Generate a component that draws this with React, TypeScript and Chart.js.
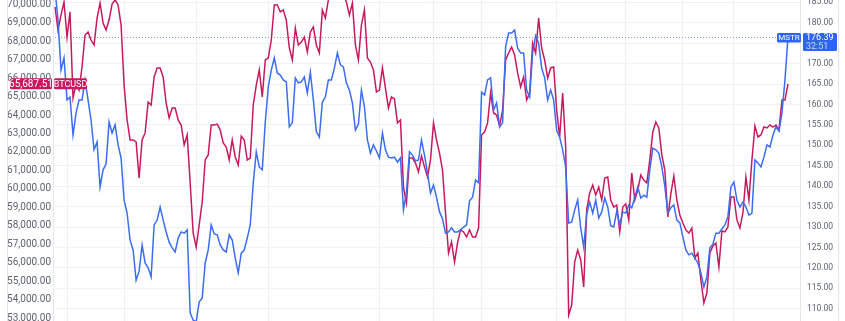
import React, { useEffect, useRef } from 'react';
import { Chart, registerables } from 'chart.js';

Chart.register(...registerables);

// BTCUSD close values (left scale)
const btcValues: number[] = [
  69850, 68600, 69410, 70120, 68220, 69580, 64920, 65680, 65350, 66600,
  68330, 68490, 68060, 67790, 69250, 70060, 68980, 68600, 69140, 70010,
  70230, 69960, 68870, 65620, 63730, 62650, 62650, 62540, 60590, 62650,
  63030, 64700, 64540, 66060, 66550, 66550, 66060, 64650, 63840, 64380,
  64380, 63730, 63460, 62380, 62920, 60320, 57610, 56850, 58050, 59290,
  61570, 61840, 63460, 63460, 63510, 63190, 62490, 62270, 61570, 62650,
  61730, 61290, 62860, 62650, 61570, 61670, 64540, 65620, 66440, 64980,
  66980, 67090, 68060, 69960, 69960, 69580, 69690, 69140, 67630, 66980,
  68710, 67790, 67950, 68220, 67410, 68490, 68770, 67790, 67360, 69690,
  69250, 70230, 70770, 71040, 71040, 70770, 70500, 70120, 69410, 70060,
  67790, 66980, 68870, 69690, 67090, 66870, 66440, 65250, 65350, 66550,
  65460, 64380, 64980, 64870, 63570, 63730, 60100, 59240, 61670, 61670,
  61400, 60920, 61780, 61190, 60640, 61570, 63570, 62650, 61940, 61020,
  58700, 56530, 57130, 56040, 57070, 57780, 57670, 57400, 57780, 57400,
  57400, 57880, 62920, 63080, 63570, 65190, 64110, 64000, 63410, 64270,
  66980, 67360, 67680, 67250, 66280, 65520, 66060, 64810, 65190, 67900,
  67360, 69250, 67630, 66980, 66000, 66550, 66600, 64270, 62810, 65190,
  62270, 53170, 53710, 56040, 56690, 56150, 54690, 58860, 59780, 60210,
  59670, 60100, 59400, 60590, 60640, 59400, 59020, 59130, 57670, 59020,
  59180, 58320, 60860, 59400, 59940, 60750, 60480, 60320, 61570, 63080,
  63620, 63300, 61840, 61020, 58480, 59720, 60700, 59400, 58590, 58150,
  57780, 57610, 57880, 56260, 56530, 55070, 53820, 54360, 56530, 56910,
  57070, 55770, 57720, 57670, 57940, 59560, 59560, 58320, 57880, 58700,
  60640, 59400, 61570, 63410, 62810, 62920, 63350, 63300, 63460, 63350,
  63460, 63190, 64810, 64810, 65687.51,
];

// MSTR close values (right scale)
const mstrValues: number[] = [
  188.0, 180.7, 168.4, 171.4, 161.1, 161.8, 152.5, 157.9, 161.1, 161.1,
  166.0, 161.1, 156.2, 148.9, 150.8, 139.8, 144.0, 145.4, 155.7, 153.0,
  155.0, 150.1, 146.9, 136.6, 133.4, 126.8, 124.4, 117.0, 119.2, 125.6,
  121.2, 120.0, 117.8, 130.5, 131.7, 134.9, 131.7, 128.8, 126.3, 124.9,
  123.9, 127.3, 128.8, 128.5, 129.3, 109.0, 107.2, 106.8, 111.7, 112.6,
  121.2, 124.4, 130.5, 128.3, 128.1, 125.6, 124.4, 123.9, 128.1, 126.8,
  122.4, 118.8, 123.6, 124.4, 127.3, 130.5, 140.8, 148.4, 144.7, 144.0,
  155.7, 164.3, 168.4, 171.4, 167.7, 167.2, 166.0, 165.5, 154.5, 155.5,
  166.5, 165.3, 165.5, 166.7, 162.8, 167.9, 161.1, 153.3, 152.0, 160.6,
  161.8, 166.0, 166.0, 168.9, 172.6, 169.7, 169.2, 165.3, 163.5, 160.4,
  153.7, 155.2, 163.5, 159.4, 151.3, 148.1, 150.1, 148.6, 146.9, 153.0,
  148.9, 147.1, 146.9, 147.1, 145.9, 146.9, 134.2, 138.6, 148.4, 147.6,
  146.2, 146.4, 151.3, 147.6, 143.2, 138.3, 140.3, 137.3, 133.7, 132.0,
  128.5, 128.8, 129.8, 128.8, 128.8, 129.3, 130.0, 130.5, 136.4, 137.3,
  141.5, 140.8, 163.0, 162.3, 166.0, 166.5, 158.6, 160.4, 154.5, 155.5,
  174.1, 177.5, 177.5, 178.2, 173.8, 172.6, 172.6, 163.5, 161.8, 172.6,
  176.8, 175.0, 168.9, 166.5, 161.1, 163.5, 161.1, 153.7, 152.0, 148.9,
  144.7, 131.0, 131.2, 134.2, 136.6, 129.8, 125.1, 133.2, 136.1, 133.4,
  136.6, 132.2, 133.7, 137.1, 134.9, 130.3, 130.0, 133.9, 130.5, 133.7,
  133.4, 135.4, 134.7, 137.3, 139.8, 137.1, 137.8, 137.3, 144.0, 149.3,
  148.9, 148.1, 144.7, 140.0, 133.4, 134.7, 135.4, 131.7, 131.0, 127.6,
  124.4, 123.2, 123.6, 122.4, 121.2, 118.8, 115.3, 117.8, 124.9, 125.8,
  128.5, 128.5, 129.5, 130.5, 132.5, 139.8, 141.0, 136.6, 134.9, 136.1,
  134.9, 132.9, 133.4, 146.4, 145.7, 144.7, 147.1, 150.1, 149.6, 152.5,
  154.5, 153.5, 157.9, 166.0, 176.39,
];

const leftTicks: number[] = [
  53000, 54000, 55000, 56000, 57000, 58000, 59000, 60000, 61000,
  62000, 63000, 64000, 65000, 66000, 67000, 68000, 69000, 70000,
];
const rightTicks: number[] = [
  110, 115, 120, 125, 130, 135, 140, 145, 150, 155, 160, 165, 170, 175, 180, 185,
];
const verticalGridIdx: number[] = [4, 23, 47, 71, 108, 126, 142, 167, 190, 209, 226];
const rightMarginSlots = 4;
const categories: string[] = Array.from(
  { length: btcValues.length + rightMarginSlots },
  (_, i) => String(i)
);

const btcName = 'BTCUSD';
const mstrName = 'MSTR';
const btcLast = 65687.51;
const mstrLast = 176.39;
const mstrCountdown = '32:51';

const RED = '#c8195f';
const BLUE_LINE = '#3a6df0';
const BLUE_BOX = '#2d64f2';
const FONT = 'Roboto';

const fmtBtc = (v: number) =>
  v.toLocaleString('en-US', { minimumFractionDigits: 2, maximumFractionDigits: 2 });

export default function App() {
  const ref = useRef<HTMLCanvasElement | null>(null);

  useEffect(() => {
    if (!ref.current) return;

    const overlay = {
      id: 'overlay',
      beforeDatasetsDraw(chart: any) {
        const { ctx, chartArea } = chart;
        const yR = chart.scales.yR;
        const my = Math.round(yR.getPixelForValue(mstrLast)) + 0.5;
        ctx.save();
        ctx.strokeStyle = '#e4e6ec';
        ctx.lineWidth = 1;
        ctx.beginPath();
        ctx.moveTo(7.5, 0); ctx.lineTo(7.5, 321);
        ctx.moveTo(chartArea.left - 1.5, 0); ctx.lineTo(chartArea.left - 1.5, 321);
        ctx.moveTo(chartArea.right + 0.5, 0); ctx.lineTo(chartArea.right + 0.5, 321);
        ctx.moveTo(838.5, 0); ctx.lineTo(838.5, 321);
        ctx.stroke();
        ctx.strokeStyle = '#7f9de8';
        ctx.setLineDash([1, 2]);
        ctx.beginPath();
        ctx.moveTo(chartArea.left, my);
        ctx.lineTo(chartArea.right - 22, my);
        ctx.stroke();
        ctx.restore();
      },
      afterDraw(chart: any) {
        const { ctx, chartArea } = chart;
        const yL = chart.scales.yL;
        const yR = chart.scales.yR;
        const by = yL.getPixelForValue(btcLast);
        const my = yR.getPixelForValue(mstrLast);
        ctx.save();
        ctx.textBaseline = 'middle';
        ctx.fillStyle = RED;
        ctx.beginPath();
        ctx.roundRect(10, by - 5.5, 42, 11, 1.5);
        ctx.fill();
        ctx.beginPath();
        ctx.roundRect(chartArea.left - 1, by - 5.5, 33, 11, 1.5);
        ctx.fill();
        ctx.fillStyle = '#ffffff';
        ctx.textAlign = 'center';
        ctx.font = `10px ${FONT}`;
        ctx.fillText(fmtBtc(btcLast), 31, by + 0.5);
        ctx.font = `9px ${FONT}`;
        ctx.fillText(btcName, chartArea.left - 1 + 16.5, by + 0.5);
        ctx.fillStyle = BLUE_BOX;
        ctx.beginPath();
        ctx.roundRect(chartArea.right - 23, my - 4.5, 24, 9.5, 1.5);
        ctx.fill();
        ctx.beginPath();
        ctx.roundRect(chartArea.right + 3, my - 4.5, 34, 18, 1.5);
        ctx.fill();
        ctx.fillStyle = '#ffffff';
        ctx.font = `8px ${FONT}`;
        ctx.fillText(mstrName, chartArea.right - 11, my + 0.3);
        ctx.textAlign = 'left';
        ctx.font = `9px ${FONT}`;
        ctx.fillText(mstrLast.toFixed(2), chartArea.right + 6, my + 0.5);
        ctx.fillStyle = '#c9d7ff';
        ctx.fillText(mstrCountdown, chartArea.right + 6, my + 9.3);
        ctx.restore();
      },
    };

    const noPad = (s: any) => {
      s.paddingTop = 0;
      s.paddingBottom = 0;
      s.paddingLeft = 0;
      s.paddingRight = 0;
    };

    const chart = new Chart(ref.current, {
      type: 'line',
      data: {
        labels: categories,
        datasets: [
          {
            label: btcName,
            data: btcValues,
            yAxisID: 'yL',
            borderColor: RED,
            borderWidth: 1.5,
            pointRadius: 0,
            tension: 0,
            order: 2,
          },
          {
            label: mstrName,
            data: mstrValues,
            yAxisID: 'yR',
            borderColor: BLUE_LINE,
            borderWidth: 1.5,
            pointRadius: 0,
            tension: 0,
            order: 1,
          },
        ],
      },
      options: {
        responsive: false,
        animation: false,
        devicePixelRatio: 1,
        layout: { padding: 0 },
        plugins: { legend: { display: false }, tooltip: { enabled: false } },
        scales: {
          x: {
            type: 'category',
            display: true,
            offset: false,
            ticks: { display: false },
            grid: {
              drawTicks: false,
              color: (c: any) =>
                verticalGridIdx.includes(c.index) ? '#eef0f5' : 'rgba(0,0,0,0)',
            },
            border: { display: false },
            afterFit: (s: any) => {
              noPad(s);
              s.height = 0;
            },
          },
          yL: {
            type: 'linear',
            position: 'left',
            min: 52848,
            max: 70227,
            afterBuildTicks: (s: any) => {
              s.ticks = leftTicks.map((v) => ({ value: v }));
            },
            ticks: {
              callback: (v: any) => fmtBtc(Number(v)),
              font: { family: FONT, size: 10 },
              color: '#5f6270',
              padding: 4,
            },
            grid: { display: false, drawTicks: false },
            border: { display: false },
            afterFit: (s: any) => {
              noPad(s);
              s.width = 55;
            },
          },
          yR: {
            type: 'linear',
            position: 'right',
            min: 107.0,
            max: 185.563,
            afterBuildTicks: (s: any) => {
              s.ticks = rightTicks.map((v) => ({ value: v }));
            },
            ticks: {
              callback: (v: any) => Number(v).toFixed(2),
              font: { family: FONT, size: 8.5 },
              color: '#5f6270',
              padding: 7,
            },
            grid: { color: '#f0f2f6', drawTicks: false },
            border: { display: false },
            afterFit: (s: any) => {
              noPad(s);
              s.width = 45;
            },
          },
        },
      },
      plugins: [overlay],
    });

    return () => chart.destroy();
  }, []);

  return (
    <div
      style={{
        position: 'fixed',
        left: 0,
        top: 0,
        width: 845,
        height: 321,
        background: '#ffffff',
      }}
    >
      <canvas ref={ref} width={845} height={321} style={{ display: 'block' }} />
    </div>
  );
}
